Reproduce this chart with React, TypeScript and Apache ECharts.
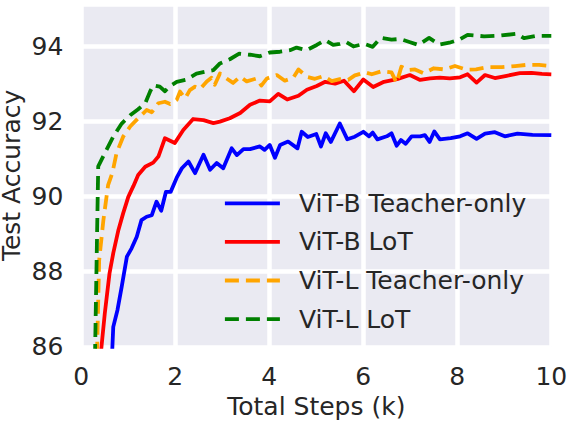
import React, { useEffect, useRef } from "react";
import * as echarts from "echarts";

const seriesNames = ["ViT-B Teacher-only", "ViT-B LoT", "ViT-L Teacher-only", "ViT-L LoT"];
const seriesColors = ["#0000FF", "#FF0000", "#FFA500", "#008000"];
const xTicks = [0, 2, 4, 6, 8, 10];
const yTicks = [86, 88, 90, 92, 94];

const blueSteps = [0.62, 0.68, 0.77, 0.86, 0.97, 1.07, 1.18, 1.28, 1.39, 1.5, 1.6, 1.7, 1.8, 1.9, 2.03, 2.14, 2.28, 2.42, 2.6, 2.74, 2.88, 3.02, 3.2, 3.31, 3.45, 3.59, 3.8, 3.9, 4.01, 4.12, 4.23, 4.4, 4.6, 4.69, 4.82, 5.0, 5.1, 5.2, 5.31, 5.5, 5.66, 5.82, 6.0, 6.12, 6.2, 6.3, 6.5, 6.6, 6.71, 6.8, 6.9, 7.03, 7.21, 7.31, 7.41, 7.51, 7.63, 7.86, 8.06, 8.22, 8.41, 8.59, 8.8, 9.01, 9.28, 9.6, 10.0];
const blueAcc = [84.8, 86.53, 86.98, 87.6, 88.4, 88.62, 88.93, 89.37, 89.46, 89.5, 89.86, 89.62, 90.12, 90.12, 90.5, 90.75, 90.93, 90.62, 91.11, 90.71, 90.89, 90.75, 91.28, 91.1, 91.26, 91.26, 91.33, 91.24, 91.37, 91.03, 91.37, 91.46, 91.28, 91.72, 91.58, 91.66, 91.33, 91.68, 91.45, 91.94, 91.52, 91.59, 91.72, 91.6, 91.7, 91.52, 91.6, 91.68, 91.35, 91.5, 91.4, 91.6, 91.6, 91.63, 91.45, 91.73, 91.52, 91.55, 91.6, 91.68, 91.53, 91.67, 91.71, 91.6, 91.67, 91.64, 91.63];

const redSteps = [0.35, 0.5, 0.6, 0.68, 0.79, 0.89, 1.0, 1.11, 1.21, 1.36, 1.53, 1.64, 1.78, 1.99, 2.17, 2.38, 2.6, 2.81, 2.95, 3.16, 3.38, 3.59, 3.8, 4.01, 4.19, 4.38, 4.62, 4.8, 5.01, 5.19, 5.4, 5.59, 5.8, 6.0, 6.21, 6.44, 6.72, 6.99, 7.21, 7.42, 7.63, 7.84, 8.06, 8.22, 8.41, 8.59, 8.8, 9.05, 9.33, 9.58, 9.8, 10.0];
const redAcc = [85.0, 86.89, 87.95, 88.49, 89.11, 89.55, 89.99, 90.28, 90.57, 90.79, 90.9, 91.06, 91.55, 91.42, 91.77, 92.06, 92.03, 91.95, 91.99, 92.08, 92.22, 92.44, 92.55, 92.53, 92.73, 92.58, 92.68, 92.84, 92.94, 93.05, 93.0, 93.08, 92.8, 93.11, 92.91, 93.05, 93.12, 93.23, 93.1, 93.14, 93.16, 93.14, 93.17, 93.25, 93.03, 93.23, 93.15, 93.21, 93.28, 93.29, 93.26, 93.25];

const orangeSteps = [0.2, 0.38, 0.47, 0.57, 0.66, 0.75, 0.89, 1.04, 1.21, 1.39, 1.5, 1.64, 1.78, 1.89, 2.03, 2.1, 2.21, 2.31, 2.42, 2.53, 2.67, 2.77, 2.84, 2.95, 3.09, 3.23, 3.38, 3.52, 3.73, 3.83, 3.95, 4.16, 4.33, 4.51, 4.62, 4.8, 4.97, 5.15, 5.33, 5.5, 5.68, 5.82, 6.04, 6.18, 6.39, 6.6, 6.71, 6.81, 6.95, 7.1, 7.28, 7.5, 7.72, 7.95, 8.2, 8.4, 8.65, 8.95, 9.23, 9.47, 9.74, 10.0];
const orangeAcc = [78.5, 88.3, 89.37, 90.3, 90.62, 91.15, 91.59, 91.86, 92.08, 92.3, 92.24, 92.48, 92.52, 92.46, 92.57, 92.79, 92.61, 92.83, 92.92, 92.86, 93.06, 93.16, 92.97, 93.27, 93.14, 93.02, 93.19, 93.06, 93.14, 92.95, 93.14, 93.23, 93.08, 93.16, 93.38, 93.18, 93.13, 93.2, 93.07, 93.12, 93.1, 93.22, 93.3, 93.25, 93.33, 93.3, 93.02, 93.45, 93.36, 93.38, 93.28, 93.41, 93.38, 93.47, 93.37, 93.38, 93.44, 93.44, 93.47, 93.5, 93.5, 93.47];

const greenSteps = [0.2, 0.36, 0.5, 0.68, 0.86, 1.04, 1.21, 1.36, 1.46, 1.53, 1.67, 1.78, 1.87, 2.03, 2.24, 2.45, 2.67, 2.81, 2.95, 3.16, 3.36, 3.59, 3.8, 4.01, 4.23, 4.44, 4.58, 4.79, 5.01, 5.19, 5.36, 5.5, 5.63, 5.79, 6.02, 6.2, 6.37, 6.6, 6.78, 6.98, 7.17, 7.4, 7.62, 7.83, 8.04, 8.22, 8.57, 8.92, 9.27, 9.42, 9.68, 10.0];
const greenAcc = [79.0, 90.8, 91.15, 91.59, 91.94, 92.16, 92.32, 92.48, 92.78, 92.96, 92.92, 92.8, 92.92, 93.05, 93.11, 93.27, 93.33, 93.36, 93.54, 93.65, 93.8, 93.77, 93.73, 93.83, 93.85, 93.89, 93.96, 93.89, 94.03, 94.16, 94.03, 94.06, 94.11, 93.99, 94.06, 93.98, 94.22, 94.17, 94.19, 94.11, 94.03, 94.22, 94.04, 94.09, 94.17, 94.3, 94.26, 94.28, 94.33, 94.21, 94.27, 94.27];

const allSteps = [blueSteps, redSteps, orangeSteps, greenSteps];
const allAcc = [blueAcc, redAcc, orangeAcc, greenAcc];
const dashed = [false, false, true, true];

const FONT = "DejaVu Sans";
const TEXT = "#262626";

export default function App() {
  const ref = useRef<HTMLDivElement>(null);
  useEffect(() => {
    if (!ref.current) return;
    const chart = echarts.init(ref.current, null, { renderer: "svg" });
    const series = seriesNames.map((name, i) => ({
      name,
      type: "line",
      data: allSteps[i].map((s, j) => [s, allAcc[i][j]]),
      showSymbol: false,
      symbol: "none",
      clip: true,
      color: seriesColors[i],
      lineStyle: {
        color: seriesColors[i],
        width: 3.8,
        type: dashed[i] ? [14, 7] : "solid",
        cap: "butt",
        join: "round",
      },
      z: 2 + i,
    }));
    chart.setOption({
      animation: false,
      backgroundColor: "#ffffff",
      textStyle: { fontFamily: FONT },
      grid: {
        show: true,
        left: 81.3,
        right: 18.7,
        top: 4,
        bottom: 74.2,
        backgroundColor: "#EAEAF2",
        borderWidth: 0,
        containLabel: false,
        outerBoundsMode: "none",
      },
      xAxis: {
        type: "value",
        min: xTicks[0],
        max: xTicks[xTicks.length - 1],
        interval: 2,
        name: "Total Steps (k)",
        nameLocation: "middle",
        nameGap: 47,
        nameMoveOverlap: false,
        nameTextStyle: { fontSize: 25, color: TEXT, fontFamily: FONT },
        axisLine: { show: false },
        axisTick: { show: false },
        axisLabel: {
          fontSize: 25,
          color: TEXT,
          fontFamily: FONT,
          margin: 17,
          formatter: (v: number) => (xTicks.includes(v) ? String(v) : ""),
        },
        splitLine: { show: true, lineStyle: { color: "#ffffff", width: 4.5 } },
      },
      yAxis: {
        type: "value",
        min: yTicks[0],
        max: 95.12,
        interval: 2,
        name: "Test Accuracy",
        nameLocation: "middle",
        nameGap: 57,
        nameMoveOverlap: false,
        nameTextStyle: { fontSize: 25, color: TEXT, fontFamily: FONT },
        axisLine: { show: false },
        axisTick: { show: false },
        axisLabel: {
          fontSize: 25,
          color: TEXT,
          fontFamily: FONT,
          margin: 18,
          showMaxLabel: false,
          formatter: (v: number) => (yTicks.includes(v) ? String(v) : ""),
        },
        splitLine: { show: true, lineStyle: { color: "#ffffff", width: 4.5 } },
      },
      legend: {
        show: true,
        orient: "vertical",
        left: 223,
        top: 188.3,
        padding: 0,
        itemWidth: 55,
        itemHeight: 30,
        itemGap: 8.6,
        selectedMode: false,
        data: seriesNames,
        lineStyle: { width: 3.8 },
        itemStyle: { color: "transparent", borderColor: "transparent", borderWidth: 0, opacity: 0 },
        textStyle: {
          fontSize: 25,
          color: TEXT,
          fontFamily: FONT,
          lineHeight: 30,
          padding: [0, 0, 0, 14],
        },
      },
      series,
    });
    return () => chart.dispose();
  }, []);
  return (
    <div
      ref={ref}
      style={{ position: "absolute", left: 0, top: 0, width: 570, height: 421 }}
    />
  );
}
